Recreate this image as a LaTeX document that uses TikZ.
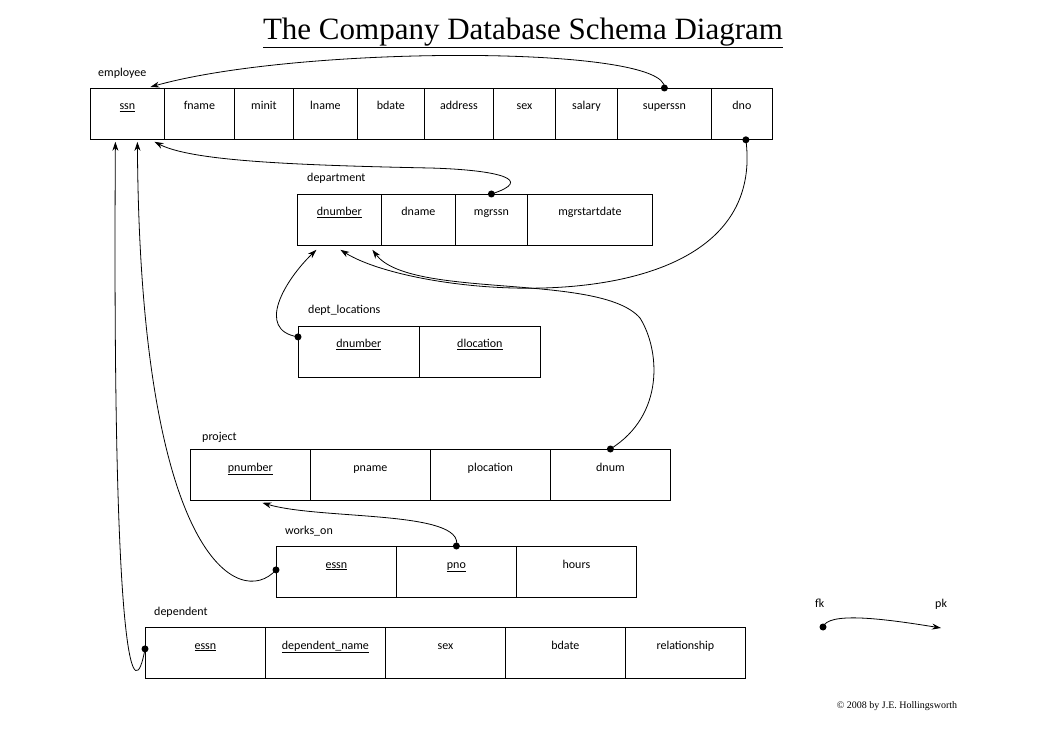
\documentclass[tikz,border=0pt]{standalone}
\usepackage{fontspec}
\setmainfont{Liberation Serif}
\newfontfamily\calfam{Carlito}
\usetikzlibrary{arrows.meta}
\newcommand\tcell[6]{%
  \node[cell,minimum width=#3pt] (#1) at (#2,#4) {};
  \node[txt] (#1t) at ([yshift=-22pt]#1.north) {#6};}
\begin{document}
\begin{tikzpicture}[x=1pt,y=-1pt,
  cell/.style={draw,thick,anchor=north west,minimum height=51pt,inner sep=0pt},
  txt/.style={font=\calfam\fontsize{12}{14}\selectfont,inner sep=0pt,anchor=base},
  tlabel/.style={font=\calfam\fontsize{12}{14}\selectfont,anchor=base west,inner sep=0pt},
  fk/.style={thick,-{Stealth[length=9pt,width=6pt]}},
  dot/.style={fill,circle,inner sep=0pt,minimum size=7pt}]
\useasboundingbox (0,0) rectangle (1061,746);
\node[font=\fontsize{31}{34}\selectfont] (title) at (523,33) {\underline{The Company Database Schema Diagram}};
% employee
\node[tlabel] (empl) at (98,77) {employee};
\tcell{ssn}{90}{74}{88}{}{\underline{ssn}}
\tcell{fname}{164}{70}{88}{}{fname}
\tcell{minit}{234}{59}{88}{}{minit}
\tcell{lname}{293}{64}{88}{}{lname}
\tcell{ebdate}{357}{67}{88}{}{bdate}
\tcell{address}{424}{69}{88}{}{address}
\tcell{esex}{493}{62}{88}{}{sex}
\tcell{salary}{555}{62}{88}{}{salary}
\tcell{superssn}{617}{94}{88}{}{superssn}
\tcell{dno}{711}{61}{88}{}{dno}
% department
\node[tlabel] (depl) at (307,182) {department};
\tcell{dnumber}{297}{84}{194}{}{\underline{dnumber}}
\tcell{dname}{381}{74}{194}{}{dname}
\tcell{mgrssn}{455}{72}{194}{}{mgrssn}
\tcell{mgrsd}{527}{125}{194}{}{mgrstartdate}
% dept_locations
\node[tlabel] (dll) at (308,314) {dept\_locations};
\tcell{dldn}{298}{121}{326}{}{\underline{dnumber}}
\tcell{dlloc}{419}{121}{326}{}{\underline{dlocation}}
% project
\node[tlabel] (prl) at (202,440) {project};
\tcell{pnumber}{190}{120}{449}{}{\underline{pnumber}}
\tcell{pname}{310}{120}{449}{}{pname}
\tcell{ploc}{430}{120}{449}{}{plocation}
\tcell{dnum}{550}{120}{449}{}{dnum}
% works_on
\node[tlabel] (wol) at (285,534) {works\_on};
\tcell{woessn}{276}{120}{546}{}{\underline{essn}}
\tcell{pno}{396}{120}{546}{}{\underline{pno}}
\tcell{hours}{516}{120}{546}{}{hours}
% dependent
\node[tlabel] (dpl) at (154,615) {dependent};
\tcell{dpessn}{145}{120}{627}{}{\underline{essn}}
\tcell{dpname}{265}{120}{627}{}{\underline{dependent\_name}}
\tcell{dpsex}{385}{120}{627}{}{sex}
\tcell{dpbdate}{505}{120}{627}{}{bdate}
\tcell{rel}{625}{120}{627}{}{relationship}
% foreign keys
\node[dot] (d1) at (superssn.north) {};
\draw[fk] (d1.center) .. controls (668,45) and (300,45) .. ([xshift=23pt,yshift=1pt]ssn.north);
\node[dot] (d2) at (mgrssn.north) {};
\draw[fk] (d2.center) .. controls (535,180) and (500,170) .. (430,168) .. controls (280,165) and (190,160) .. ([xshift=27pt,yshift=-2pt]ssn.south);
\node[dot] (d3) at ([xshift=4pt]dno.south) {};
\draw[fk] (d3.center) .. controls (770,330) and (420,300) .. ([xshift=1pt,yshift=-4pt]dnumber.south);
\node[dot] (d4) at ([yshift=15pt]dldn.west) {};
\draw[fk] (d4.center) .. controls (255,330) and (285,280) .. ([xshift=-23pt,yshift=-4pt]dnumber.south);
\node[dot] (d5) at (dnum.north) {};
\draw[fk] (d5.center) .. controls (665,415) and (660,350) .. (640,318) .. controls (600,272) and (410,300) .. ([xshift=33pt,yshift=-4pt]dnumber.south);
\node[dot] (d6) at (pno.north) {};
\draw[fk] (d6.center) .. controls (465,510) and (320,520) .. ([xshift=12pt,yshift=-2pt]pnumber.south);
\node[dot] (d7) at ([yshift=2pt]woessn.west) {};
\draw[fk] (d7.center) .. controls (240,610) and (140,560) .. ([xshift=10pt,yshift=-2pt]ssn.south);
\node[dot] (d8) at ([yshift=4pt]dpessn.west) {};
\draw[fk] (d8.center) .. controls (135,705) and (112,690) .. ([xshift=-12pt,yshift=-2pt]ssn.south);
% legend
\node[tlabel] (fkl) at (815,607) {fk};
\node[tlabel] (pkl) at (935,607) {pk};
\node[dot] (ld) at (823,627) {};
\coordinate (lp) at (941,628);
\draw[fk] (ld.center) .. controls (828,612) and (880,618) .. (lp);
\node[font=\fontsize{10}{12}\selectfont] (copy) at (897,706) {\textcopyright\ 2008 by J.E. Hollingsworth};
\end{tikzpicture}
\end{document}
